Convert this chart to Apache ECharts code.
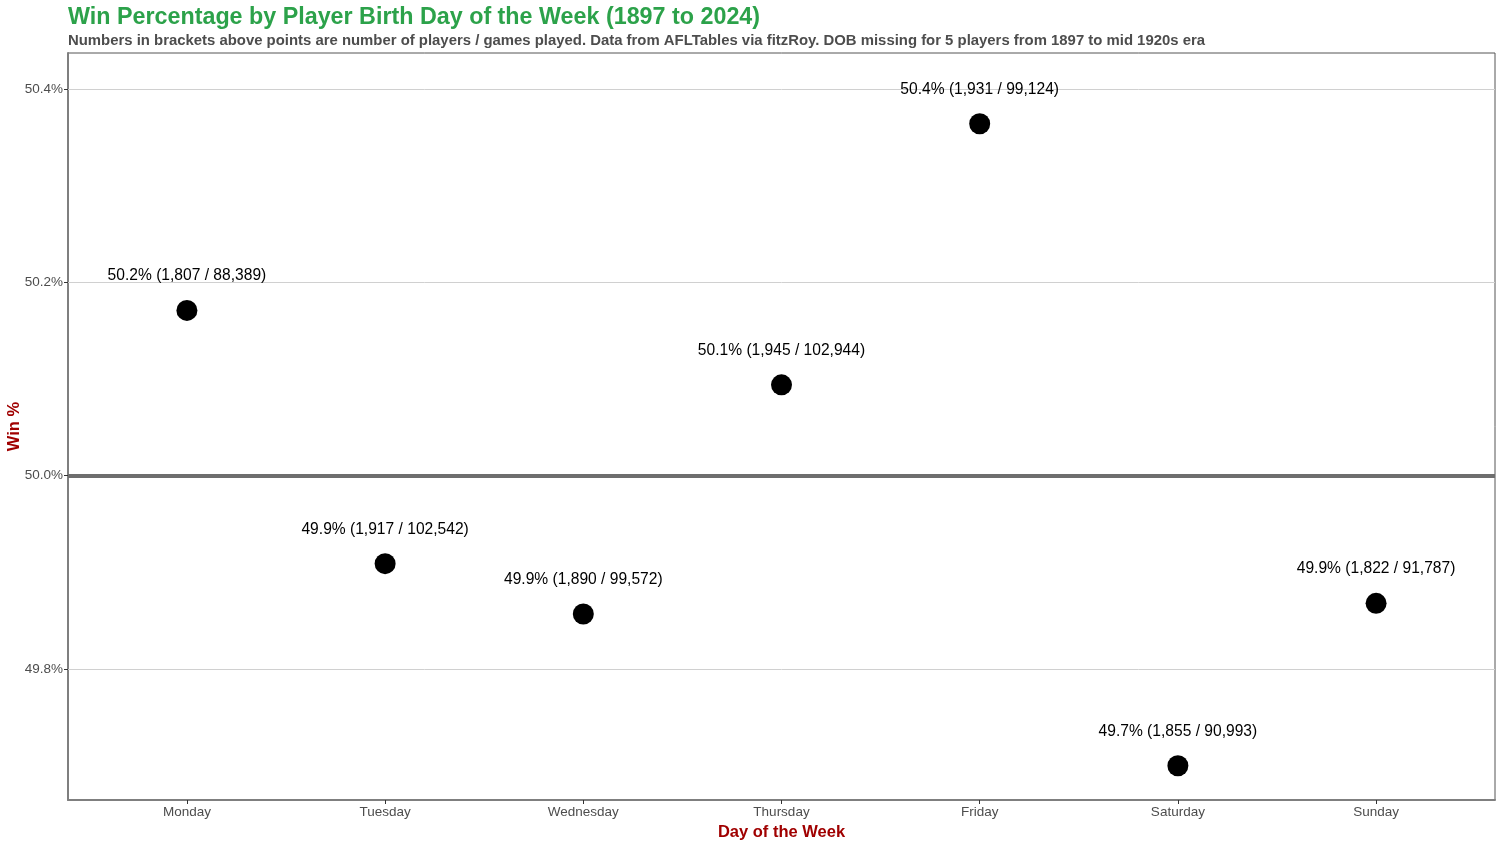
<!DOCTYPE html>
<html>
<head>
<meta charset="utf-8">
<script src="https://cdn.jsdelivr.net/npm/echarts@6/dist/echarts.min.js"></script>
<style>
  html, body { margin: 0; padding: 0; background: #fff; }
  #main { width: 1500px; height: 844px; }
</style>
</head>
<body>
<div id="main"></div>
<script>
var days = ['Monday', 'Tuesday', 'Wednesday', 'Thursday', 'Friday', 'Saturday', 'Sunday'];
var winPct = [50.171, 49.909, 49.857, 50.094, 50.364, 49.700, 49.868];
var players = ['1,807', '1,917', '1,890', '1,945', '1,931', '1,855', '1,822'];
var games = ['88,389', '102,542', '99,572', '102,944', '99,124', '90,993', '91,787'];
var yTicks = [49.8, 50.0, 50.2, 50.4];

var dom = document.getElementById('main');
var myChart = echarts.init(dom);
var font = 'Liberation Sans, Arial, sans-serif';

var option = {
    animation: false,
    title: {
        text: 'Win Percentage by Player Birth Day of the Week (1897 to 2024)',
        subtext: 'Numbers in brackets above points are number of players / games played. Data from AFLTables via fitzRoy. DOB missing for 5 players from 1897 to mid 1920s era',
        left: 63,
        top: 1,
        itemGap: 4,
        textStyle: { color: '#2ca24a', fontSize: 23.3, fontWeight: 'bold', fontFamily: font },
        subtextStyle: { color: '#4d4d4d', fontSize: 14.9, fontWeight: 'bold', fontFamily: font }
    },
    grid: {
        left: 68, right: 5, top: 53, bottom: 44,
        outerBoundsMode: 'none',
        containLabel: false,
        show: true, borderColor: '#555', borderWidth: 1
    },
    xAxis: {
        type: 'value',
        min: -0.6,
        max: 6.6,
        name: 'Day of the Week',
        nameLocation: 'middle',
        nameGap: 23,
        nameTextStyle: { color: '#a00000', fontSize: 16.5, fontWeight: 'bold', fontFamily: font },
        axisLine: { show: true, onZero: false, lineStyle: { color: '#7f7f7f', width: 2 } },
        axisTick: { show: true, customValues: [0, 1, 2, 3, 4, 5, 6], length: 4, lineStyle: { color: '#333' } },
        axisLabel: {
            customValues: [0, 1, 2, 3, 4, 5, 6],
            formatter: function (v) { return days[Math.round(v)]; },
            color: '#4d4d4d', fontSize: 13.5, fontFamily: font, margin: 5
        },
        splitLine: { show: false }
    },
    yAxis: {
        type: 'value',
        min: 49.6646,
        max: 50.4372,
        name: 'Win %',
        nameLocation: 'middle',
        nameGap: 45,
        nameMoveOverlap: false,
        nameTextStyle: { color: '#a00000', fontSize: 16.5, fontWeight: 'bold', fontFamily: font },
        axisLine: { show: true, onZero: false, lineStyle: { color: '#7f7f7f', width: 2 } },
        axisTick: { show: true, customValues: yTicks, length: 4, lineStyle: { color: '#333' } },
        axisLabel: {
            customValues: yTicks,
            formatter: function (v) { return v.toFixed(1) + '%'; },
            color: '#4d4d4d', fontSize: 13.5, fontFamily: font, margin: 5
        },
        splitLine: { show: false }
    },
    series: [{
        type: 'scatter',
        symbolSize: 21,
        itemStyle: { color: '#000', opacity: 1 },
        data: winPct.map(function (v, i) { return [i, v]; }),
        label: {
            show: true,
            position: 'top',
            distance: 16,
            color: '#000',
            fontSize: 15.6,
            fontFamily: font,
            formatter: function (p) {
                var i = p.dataIndex;
                return winPct[i].toFixed(1) + '% (' + players[i] + ' / ' + games[i] + ')';
            }
        },
        markLine: {
            silent: true,
            symbol: 'none',
            label: { show: false },
            z: 1,
            data: [
                { yAxis: 49.8, lineStyle: { color: '#d0d0d0', width: 1, type: 'solid' } },
                { yAxis: 50.2, lineStyle: { color: '#d0d0d0', width: 1, type: 'solid' } },
                { yAxis: 50.4, lineStyle: { color: '#d0d0d0', width: 1, type: 'solid' } },
                { yAxis: 50.0, lineStyle: { color: '#6e6e6e', width: 4, type: 'solid' } }
            ]
        }
    }]
};
myChart.setOption(option);
</script>
</body>
</html>
